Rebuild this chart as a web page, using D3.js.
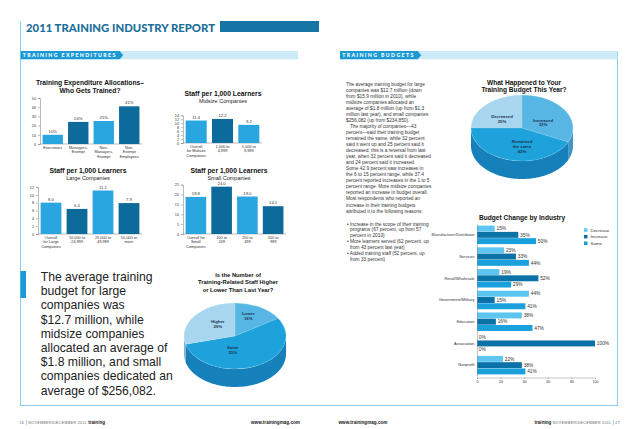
<!DOCTYPE html>
<html>
<head>
<meta charset="utf-8">
<script src="https://cdn.jsdelivr.net/npm/d3@7"></script>
<style>
  body { margin: 0; background: #fff; }
  svg { display: block; font-family: "Liberation Sans", Arial, sans-serif; }
</style>
</head>
<body>
<div id="chart"></div>
<script>
// ---- data ----
var allocCats = ['Executives', 'Managers,|Exempt', 'Non-|Managers,|Exempt', 'Non-|Exempt|Employees'];
var allocVals = [10, 24, 25, 41];
var allocTicks = [0, 10, 20, 30, 40, 50];

var midCats = ['Overall|for Midsize|Companies', '1,000 to|4,999', '5,000 to|9,999'];
var midVals = [11.4, 12.2, 9.2];
var midTicks = [0, 2, 4, 6, 8, 10, 12, 14];

var largeCats = ['Overall|for Large|Companies', '10,000 to|24,999', '25,000 to|49,999', '50,000 or|more'];
var largeVals = [8.0, 6.4, 11.1, 7.9];
var largeTicks = [0, 2, 4, 6, 8, 10, 12];

var smallCats = ['Overall for|Small|Companies', '100 to|249', '250 to|499', '500 to|999'];
var smallVals = [18.8, 24.0, 19.0, 14.1];
var smallTicks = [0, 5, 10, 15, 20, 25];

var staffLabels = ['Lower|16%', 'Same|55%', 'Higher|29%'];
var staffVals = [16, 55, 29];

var budgetLabels = ['Increased|32%', 'Remained|the same|43%', 'Decreased|25%'];
var budgetVals = [32, 43, 25];

var industries = ['Manufacturer/Distributor', 'Services', 'Retail/Wholesale', 'Government/Military', 'Education', 'Association', 'Nonprofit'];
var changeSeries = ['Decrease', 'Increase', 'Same'];
var decreaseVals = [15, 23, 19, 44, 38, 0, 22];
var increaseVals = [35, 33, 52, 15, 16, 100, 38];
var sameVals = [50, 44, 29, 41, 47, 0, 41];
var changeTicks = [0, 20, 40, 60, 80, 100];

var bodyText = [
  'The average training budget for large',
  'companies was $12.7 million (down',
  'from $15.9 million in 2010), while',
  'midsize companies allocated an',
  'average of $1.8 million (up from $1.3',
  'million last year), and small companies',
  '$256,082 (up from $234,850).',
  '   The majority of companies\u201443',
  'percent\u2014said their training budget',
  'remained the same, while 32 percent',
  'said it went up and 25 percent said it',
  'decreased; this is a reversal from last',
  'year, when 32 percent said it decreased',
  'and 24 percent said it increased.',
  'Some 42.9 percent saw increases in',
  'the 6 to 15 percent range, while 37.4',
  'percent reported increases in the 1 to 5',
  'percent range. More midsize companies',
  'reported an increase in budget overall.',
  'Most respondents who reported an',
  'increase in their training budgets',
  'attributed it to the following reasons:'
];
var bullets = [
  ['Increase in the scope of their training', 'programs (67 percent, up from 57', 'percent in 2010)'],
  ['More learners served (62 percent, up', 'from 43 percent last year)'],
  ['Added training staff (52 percent, up', 'from 33 percent)']
];
var bigText = ['The average training', 'budget for large', 'companies was', '$12.7 million, while',
  'midsize companies', 'allocated an average of', '$1.8 million, and small',
  'companies dedicated an', 'average of $256,082.'];

// ---- colours ----
var frameBlue = '#86d0ee';
var lightBar = '#29a6df';
var darkBar = '#0d6b9c';

var W = 638, H = 429;
var svg = d3.select('#chart').append('svg')
  .attr('width', W)
  .attr('height', H);

// ---- page furniture ----
svg.append('line').attr('x1', 20.5).attr('x2', 20.5).attr('y1', 21).attr('y2', 406).attr('stroke', frameBlue);
svg.append('line').attr('x1', 20).attr('x2', 618).attr('y1', 405.5).attr('y2', 405.5).attr('stroke', frameBlue);
svg.append('line').attr('x1', 617.5).attr('x2', 617.5).attr('y1', 51).attr('y2', 406).attr('stroke', frameBlue);

svg.append('text')
  .attr('x', 26).attr('y', 32.3)
  .attr('font-family', 'Lato, "Open Sans", sans-serif')
  .attr('font-weight', 900)
  .attr('font-size', 10.3)
  .attr('fill', '#1b6f99')
  .attr('textLength', 189).attr('lengthAdjust', 'spacingAndGlyphs')
  .text('2011 TRAINING INDUSTRY REPORT');
svg.append('rect').attr('x', 220).attr('y', 21).attr('width', 99).attr('height', 11).attr('fill', '#1675a4');

function sectionBar(x0, x1, label, ls) {
  svg.append('rect').attr('x', x0).attr('y', 51).attr('width', x1 - x0).attr('height', 8.3).attr('fill', '#cdeaf8');
  var path = svg.append('path').attr('fill', '#1b9ad5');
  var t = svg.append('text')
    .attr('x', x0 + 2.2).attr('y', 57.3)
    .attr('font-family', 'Lato, sans-serif')
    .attr('font-weight', 900)
    .attr('font-size', 5.2)
    .attr('fill', '#fff')
    .text(label);
  if (ls == null) ls = (94 - t.node().getComputedTextLength()) / label.length;
  t.attr('letter-spacing', ls);
  var dark = x0 + 2.2 + t.node().getComputedTextLength() + 3;
  path.attr('d', 'M' + x0 + ',51H' + dark + 'L' + (dark + 3.5) + ',55.15L' + dark + ',59.3H' + x0 + 'Z');
  return ls;
}
var spacing = sectionBar(20.5, 298, 'TRAINING EXPENDITURES');
sectionBar(340, 617.5, 'TRAINING BUDGETS', spacing);

// ---- vertical bar charts ----
function barChart(o) {
  var g = svg.append('g');
  var x = d3.scaleBand().domain(o.cats).range(o.xr).paddingInner(0.2).paddingOuter(0.1);
  var y = d3.scaleLinear().domain([0, o.max]).range(o.yr);

  g.append('text').attr('x', o.cx).attr('y', o.ty)
    .attr('text-anchor', 'middle').attr('font-weight', 'bold').attr('font-size', o.tsize)
    .attr('fill', '#111')
    .selectAll('tspan').data(o.title).enter().append('tspan')
    .attr('x', o.cx).attr('dy', (d, i) => i ? 8 : 0).text(d => d);
  if (o.sub) {
    g.append('text').attr('x', o.cx).attr('y', o.sy)
      .attr('text-anchor', 'middle').attr('font-size', 5.5).attr('fill', '#222')
      .text(o.sub);
  }

  var ax = g.append('g').attr('transform', 'translate(' + o.xr[0] + ',0)')
    .call(d3.axisLeft(y).tickValues(o.ticks).tickSize(2).tickPadding(2).tickFormat(d3.format('d')));
  ax.select('.domain').attr('stroke', '#777').attr('stroke-width', 0.5);
  ax.selectAll('.tick line').attr('stroke', '#777').attr('stroke-width', 0.5);
  ax.selectAll('.tick text').attr('font-size', 3.8).attr('fill', '#333').attr('font-family', '"Liberation Sans", Arial');

  g.append('line').attr('x1', o.xr[0]).attr('x2', o.xr[1])
    .attr('y1', y(0)).attr('y2', y(0)).attr('stroke', '#777').attr('stroke-width', 0.5);

  g.selectAll('rect.bar').data(o.vals).enter().append('rect')
    .attr('class', 'bar')
    .attr('x', (d, i) => x(o.cats[i]))
    .attr('y', d => y(d))
    .attr('width', x.bandwidth())
    .attr('height', d => y(0) - y(d))
    .attr('fill', (d, i) => i % 2 ? darkBar : lightBar);

  g.selectAll('text.val').data(o.vals).enter().append('text')
    .attr('class', 'val')
    .attr('x', (d, i) => x(o.cats[i]) + x.bandwidth() / 2)
    .attr('y', d => y(d) - 2)
    .attr('text-anchor', 'middle').attr('font-size', 4.2).attr('fill', '#333')
    .text(o.valFmt);

  g.selectAll('text.cat').data(o.cats).enter().append('text')
    .attr('class', 'cat')
    .attr('text-anchor', 'middle').attr('font-size', 3.9).attr('fill', '#333')
    .attr('y', y(0) + 4.6)
    .each(function (d) {
      d3.select(this).selectAll('tspan').data(d.split('|')).enter().append('tspan')
        .attr('x', x(d) + x.bandwidth() / 2)
        .attr('dy', (t, i) => i ? 4.7 : 0)
        .text(t => t);
    });
}

barChart({ cats: allocCats, vals: allocVals, ticks: allocTicks, max: 50, xr: [40, 142], yr: [144, 98],
  title: ['Training Expenditure Allocations\u2013', 'Who Gets Trained?'], cx: 90, ty: 84.5, tsize: 6.7,
  valFmt: d => d + '%' });
barChart({ cats: midCats, vals: midVals, ticks: midTicks, max: 14, xr: [183, 262], yr: [143, 115.4],
  title: ['Staff per 1,000 Learners'], sub: 'Midsize Companies', cx: 223, ty: 95.5, sy: 103, tsize: 6.8,
  valFmt: d => d.toFixed(1) });
barChart({ cats: largeCats, vals: largeVals, ticks: largeTicks, max: 12, xr: [38, 142], yr: [234, 187],
  title: ['Staff per 1,000 Learners'], sub: 'Large Companies', cx: 88, ty: 172.5, sy: 179.5, tsize: 6.8,
  valFmt: d => d.toFixed(1) });
barChart({ cats: smallCats, vals: smallVals, ticks: smallTicks, max: 25, xr: [183, 286], yr: [234, 184.7],
  title: ['Staff per 1,000 Learners'], sub: 'Small Companies', cx: 229, ty: 172.5, sy: 179.5, tsize: 6.8,
  valFmt: d => d.toFixed(1) });

// ---- big pull quote ----
svg.append('rect').attr('x', 20.5).attr('y', 271).attr('width', 5.5).attr('height', 27).attr('fill', '#1b9ad5');
svg.append('g').selectAll('text').data(bigText).enter().append('text')
  .attr('x', 40.7).attr('y', (d, i) => 281 + i * 14.2)
  .attr('font-size', 12.2).attr('fill', '#222')
  .text(d => d);

// ---- 3D pies ----
function pie3d(o) {
  var g = svg.append('g').attr('transform', 'translate(' + o.cx + ',' + o.cy + ')');
  var arcs = d3.pie().sort(null)(o.vals);
  var rx = o.rx, ry = o.ry, h = o.depth;
  var pt = (a, dy) => [rx * Math.sin(a), -ry * Math.cos(a) + dy];

  g.append('text').attr('y', o.ty - o.cy).attr('text-anchor', 'middle')
    .attr('font-weight', 'bold').attr('font-size', o.tsize).attr('fill', '#111')
    .selectAll('tspan').data(o.title).enter().append('tspan')
    .attr('x', o.tx - o.cx).attr('dy', (d, i) => i ? o.tlead : 0).text(d => d);

  // side walls (front half only)
  arcs.forEach(function (a, i) {
    var s = Math.max(a.startAngle, Math.PI / 2), e = Math.min(a.endAngle, 3 * Math.PI / 2);
    if (e <= s) return;
    var ts = d3.range(s, e, 0.02).concat([e]);
    var pts = ts.map(t => pt(t, 0)).concat(ts.slice().reverse().map(t => pt(t, h)));
    g.append('path').attr('d', d3.line()(pts) + 'Z').attr('fill', o.sides[i]);
  });

  var face = g.append('g').attr('transform', 'scale(1,' + (ry / rx) + ')');
  var arc = d3.arc().innerRadius(0).outerRadius(rx);
  face.selectAll('path').data(arcs).enter().append('path')
    .attr('d', arc).attr('fill', (d, i) => o.colors[i])
    .attr('stroke', '#ffffff').attr('stroke-width', 0.3).attr('stroke-opacity', 0.4);

  g.selectAll('text.lbl').data(o.labels).enter().append('text')
    .attr('class', 'lbl').attr('text-anchor', 'middle')
    .attr('font-weight', 'bold').attr('font-size', 4.3).attr('fill', '#1c3652')
    .attr('y', (d, i) => o.lpos[i][1])
    .each(function (d, i) {
      d3.select(this).selectAll('tspan').data(d.split('|')).enter().append('tspan')
        .attr('x', o.lpos[i][0]).attr('dy', (t, j) => j ? 4.9 : 0).text(t => t);
    });
}

pie3d({ vals: staffVals, labels: staffLabels, cx: 235, cy: 336, rx: 51, ry: 33, depth: 18,
  colors: ['#58b6e4', '#1ea2dc', '#a9d6ef'], sides: ['#3f95c4', '#1580b9', '#7cb3d6'],
  lpos: [[13.3, -21.2], [-2.3, 13], [-17.3, -13]],
  title: ['Is the Number of', 'Training-Related Staff Higher', 'or Lower Than Last Year?'],
  tx: 238, ty: 276.5, tsize: 5.8, tlead: 7.7 });

pie3d({ vals: budgetVals, labels: budgetLabels, cx: 522, cy: 128, rx: 51, ry: 33, depth: 18,
  colors: ['#58b6e4', '#1ea2dc', '#a9d6ef'], sides: ['#3f95c4', '#1580b9', '#7cb3d6'],
  lpos: [[21, -6.5], [0, 15], [-20, -10]],
  title: ['What Happened to Your', 'Training Budget This Year?'],
  tx: 524, ty: 84.5, tsize: 6.6, tlead: 7.6 });

// ---- right page body text ----
svg.append('g').selectAll('text').data(bodyText).enter().append('text')
  .attr('x', 346).attr('y', (d, i) => 85.5 + i * 6.05)
  .attr('font-size', 4.8).attr('fill', '#333')
  .attr('xml:space', 'preserve')
  .text(d => d);
var by = 225.5;
bullets.forEach(function (b) {
  b.forEach(function (line, j) {
    svg.append('text').attr('x', j ? 350 : 347).attr('y', by)
      .attr('font-size', 4.8).attr('fill', '#333')
      .text((j ? '' : '\u2022 ') + line);
    by += 5.9;
  });
});

// ---- budget change by industry ----
(function () {
  var g = svg.append('g');
  var yg = d3.scaleBand().domain(industries).range([224, 376]).paddingInner(0.12).paddingOuter(0.06);
  var ys = d3.scaleBand().domain(changeSeries).range([0, yg.bandwidth()]).padding(0.05);
  var x = d3.scaleLinear().domain([0, 100]).range([477, 595]);
  var cols = { Decrease: '#5cc6f0', Increase: '#0b72a8', Same: '#1aa0dc' };
  var series = { Decrease: decreaseVals, Increase: increaseVals, Same: sameVals };

  g.append('text').attr('x', 522).attr('y', 219.5).attr('text-anchor', 'middle')
    .attr('font-weight', 'bold').attr('font-size', 6.6).attr('fill', '#111')
    .text('Budget Change by Industry');

  changeSeries.forEach(function (s) {
    var vals = series[s];
    g.selectAll('rect.' + s).data(vals).enter().append('rect')
      .attr('x', x(0))
      .attr('y', (d, i) => yg(industries[i]) + ys(s))
      .attr('width', d => x(d) - x(0))
      .attr('height', ys.bandwidth())
      .attr('fill', cols[s]);
    g.selectAll('text.' + s).data(vals).enter().append('text')
      .attr('x', d => x(d) + 1.8)
      .attr('y', (d, i) => yg(industries[i]) + ys(s) + ys.bandwidth() / 2 + 1.7)
      .attr('font-size', 4.8).attr('fill', '#333')
      .text(d => d + '%');
  });

  var ya = g.append('g').attr('transform', 'translate(' + x(0) + ',0)')
    .call(d3.axisLeft(yg).tickSize(0).tickPadding(2.5));
  ya.select('.domain').attr('stroke', '#888').attr('stroke-width', 0.5);
  ya.selectAll('text').attr('font-size', 4.0).attr('fill', '#333').attr('font-family', '"Liberation Sans", Arial');

  var xa = g.append('g').attr('transform', 'translate(0,377.5)')
    .call(d3.axisBottom(x).tickValues(changeTicks).tickSize(1.5).tickPadding(1.2));
  xa.select('.domain').attr('stroke', '#888').attr('stroke-width', 0.5);
  xa.selectAll('.tick line').attr('stroke', '#888').attr('stroke-width', 0.5);
  xa.selectAll('text').attr('font-size', 3.6).attr('fill', '#333').attr('font-family', '"Liberation Sans", Arial');

  var lg = g.selectAll('g.leg').data(changeSeries).enter().append('g')
    .attr('transform', (d, i) => 'translate(584,' + (228.3 + i * 6.6) + ')');
  lg.append('rect').attr('width', 3.5).attr('height', 3.5).attr('fill', d => cols[d]);
  lg.append('text').attr('x', 6.5).attr('y', 3.3).attr('font-size', 4.4).attr('fill', '#333').text(d => d);
})();

// ---- footer ----
function footer(x, anchor, parts) {
  var t = svg.append('text').attr('x', x).attr('y', 423.5).attr('text-anchor', anchor)
    .attr('fill', '#666');
  parts.forEach(function (p) {
    var s = t.append('tspan').text(p[0]);
    if (p[1] === 'b') s.attr('font-weight', 'bold').attr('font-size', 4.6).attr('fill', '#222');
    else if (p[1] === 'r') s.attr('font-size', 5.5).attr('fill', '#1b9ad5');
    else s.attr('font-size', 3.7).attr('letter-spacing', 0.3);
  });
}
footer(19.5, 'start', [['26 ', 0], ['|', 'r'], [' NOVEMBER/DECEMBER 2011 ', 0], ['training', 'b']]);
footer(251, 'start', [['www.trainingmag.com', 'b']]);
footer(338.5, 'start', [['www.trainingmag.com', 'b']]);
footer(620, 'end', [['training ', 'b'], ['NOVEMBER/DECEMBER 2011 ', 0], ['|', 'r'], [' 27', 0]]);
</script>
</body>
</html>
